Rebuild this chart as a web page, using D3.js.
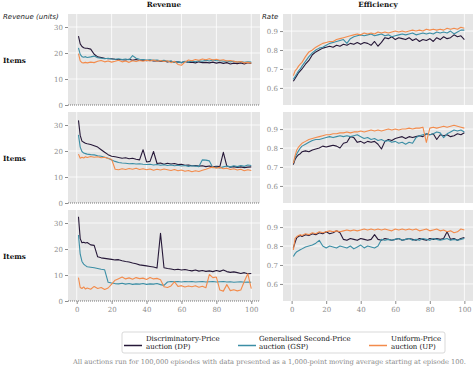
<!DOCTYPE html>
<html><head><meta charset="utf-8">
<script src="https://cdn.jsdelivr.net/npm/d3@7"></script>
<style>body{margin:0;background:#fff}svg{display:block}</style>
</head><body>
<script>
const episodes = [1,2,3,4,5,6,8,10,12,14,16,18,20,22,24,26,28,30,32,34,36,38,40,42,44,46,48,50,52,54,56,58,60,62,64,66,68,70,72,74,76,78,80,82,84,86,88,90,92,94,96,98,100];
const seriesNames = ["DP","GSP","UP"];
const legendLabels = [["Discriminatory-Price","auction (DP)"],["Generalised Second-Price","auction (GSP)"],["Uniform-Price","auction (UP)"]];
const rowLabels = ["Items","Items","Items"];
const columnTitles = ["Revenue","Efficiency"];
const revenueTicks = [0,10,20,30];
const rateTicks = [0.6,0.7,0.8,0.9];
const xTicks = [0,20,40,60,80,100];

// Revenue rows
const rev1DP = [26.5,23.5,22.5,22,21.8,21.8,21.5,19.5,18.5,18.3,18.0,17.8,17.8,17.6,17.5,17.4,17.3,17.6,17.2,17.5,17.1,17.3,17.0,17.2,16.9,17.0,16.8,16.9,16.6,16.8,16.5,16.6,16.3,16.7,16.4,16.5,16.2,16.6,16.3,16.4,16.2,16.5,16.1,16.4,16.0,16.3,15.8,16.1,15.9,16.2,15.8,16.3,16.0];
const rev1GSP = [22.0,19.5,18.6,18.4,18.6,18.3,18.5,18.8,18.2,18.0,17.8,18.0,17.7,17.6,17.8,17.5,17.7,17.4,19.0,18.0,17.6,17.5,17.3,17.4,17.2,17.3,17.0,17.2,16.8,16.9,16.4,16.6,16.3,16.8,16.5,16.9,16.6,17.0,16.8,17.2,16.9,17.3,17.0,17.1,16.8,16.9,16.6,16.8,16.5,16.7,16.4,16.6,16.5];
const rev1UP = [19.8,17.0,16.3,16.2,16.4,16.2,16.5,16.3,16.8,17.1,16.6,16.9,16.5,16.8,17.2,16.6,16.9,16.4,17.0,16.7,17.1,16.8,17.2,16.9,17.3,16.8,17.1,16.7,17.0,16.3,16.8,15.6,15.3,16.5,17.3,17.0,17.5,17.2,17.7,17.4,17.8,17.3,17.6,17.2,17.4,16.9,17.1,16.8,16.5,16.7,16.2,16.4,16.1];
const rev2DP = [31.8,26.0,23.8,23.4,23.0,22.8,22.5,22.0,21.5,20.5,19.5,18.6,18.0,17.8,17.5,17.2,17.4,17.0,17.2,16.8,16.6,20.5,15.8,16.0,19.8,15.2,15.4,14.9,15.3,15.0,15.2,14.8,14.9,14.5,14.6,14.3,14.4,14.2,14.3,14.0,14.2,13.9,14.1,14.0,19.5,14.2,13.8,14.0,13.7,13.9,13.6,13.8,13.9];
const rev2GSP = [26.2,21.5,19.8,19.2,19.0,18.8,18.6,18.5,18.2,18.0,17.6,17.2,16.5,16.0,15.6,15.4,15.3,15.1,15.2,15.0,15.1,14.9,14.8,14.9,14.6,14.8,14.5,14.7,14.4,14.6,14.3,14.5,14.2,14.4,14.1,14.3,14.2,14.0,16.6,16.5,16.2,13.6,13.8,13.5,13.9,14.2,13.9,14.3,14.0,14.4,14.1,14.6,14.4];
const rev2UP = [18.8,17.2,17.6,17.3,17.8,17.5,17.9,17.6,17.8,17.4,17.6,17.1,16.8,13.0,12.8,13.2,12.9,13.3,13.0,13.4,12.9,13.2,12.8,13.1,12.6,13.0,12.7,13.1,12.8,12.5,12.9,12.4,12.7,12.2,12.5,12.0,12.4,12.1,12.6,13.0,13.5,13.8,13.4,13.7,13.2,13.4,12.9,13.2,12.7,13.0,12.4,12.8,12.5];
const rev3DP = [32.4,24.0,22.4,22.6,22.3,22.5,21.6,21.4,17.0,16.6,16.4,16.2,16.0,15.8,15.9,15.5,15.2,15.0,14.6,14.3,13.9,13.7,13.5,13.3,13.1,12.7,26.0,12.8,12.5,12.3,12.0,12.2,11.9,12.1,11.8,11.6,11.9,11.5,11.7,11.4,11.6,11.3,11.7,11.4,11.9,11.3,11.0,11.2,10.9,10.6,10.9,10.5,10.6];
const rev3GSP = [25.4,18.0,15.2,14.2,13.6,13.2,13.0,12.8,12.5,12.2,12.0,7.2,6.9,6.7,6.6,6.8,6.5,6.7,6.4,6.6,6.5,6.7,6.4,6.6,6.5,6.7,6.3,6.0,7.3,7.5,7.4,7.5,7.3,7.5,7.4,7.5,7.3,7.4,7.5,7.3,7.4,7.5,7.3,7.4,7.5,7.3,7.4,7.2,7.3,7.4,7.2,7.3,7.2];
const rev3UP = [9.0,5.2,4.8,5.4,4.6,5.0,4.5,5.6,4.8,5.2,4.4,5.0,6.5,8.0,8.6,9.2,8.5,8.9,8.4,9.0,8.6,8.8,8.3,9.0,8.5,8.7,8.2,5.5,5.2,5.8,7.4,5.6,5.9,5.4,5.8,5.5,5.9,5.3,5.7,5.1,10.2,9.0,9.2,4.2,3.8,6.3,4.0,4.3,3.9,4.2,7.5,10.5,4.8];

// Efficiency rows
const eff1DP = [0.635,0.65,0.665,0.68,0.69,0.70,0.725,0.745,0.775,0.79,0.80,0.81,0.815,0.82,0.815,0.825,0.82,0.83,0.825,0.835,0.83,0.84,0.83,0.84,0.835,0.825,0.845,0.82,0.84,0.865,0.86,0.87,0.855,0.865,0.86,0.855,0.865,0.85,0.86,0.845,0.855,0.85,0.86,0.845,0.865,0.855,0.87,0.86,0.865,0.88,0.87,0.875,0.855];
const eff1GSP = [0.645,0.66,0.675,0.69,0.70,0.715,0.74,0.765,0.785,0.80,0.81,0.815,0.825,0.835,0.84,0.845,0.85,0.855,0.835,0.86,0.87,0.875,0.88,0.875,0.88,0.885,0.875,0.88,0.885,0.875,0.88,0.87,0.875,0.88,0.885,0.88,0.885,0.89,0.88,0.885,0.89,0.885,0.89,0.885,0.895,0.89,0.895,0.89,0.90,0.885,0.895,0.905,0.905];
const eff1UP = [0.665,0.69,0.70,0.715,0.725,0.735,0.765,0.79,0.80,0.815,0.825,0.835,0.84,0.845,0.845,0.855,0.86,0.865,0.87,0.875,0.88,0.885,0.88,0.89,0.885,0.89,0.885,0.895,0.89,0.895,0.89,0.895,0.9,0.895,0.9,0.895,0.9,0.905,0.9,0.905,0.9,0.91,0.905,0.91,0.905,0.91,0.905,0.915,0.91,0.915,0.91,0.92,0.915];
const eff2DP = [0.712,0.74,0.755,0.765,0.77,0.78,0.785,0.78,0.79,0.795,0.80,0.81,0.805,0.81,0.815,0.81,0.80,0.825,0.83,0.86,0.855,0.83,0.835,0.825,0.835,0.83,0.835,0.82,0.795,0.835,0.845,0.84,0.85,0.855,0.86,0.85,0.86,0.855,0.86,0.865,0.86,0.875,0.87,0.875,0.845,0.87,0.865,0.87,0.86,0.865,0.875,0.87,0.88];
const eff2GSP = [0.72,0.75,0.77,0.785,0.80,0.81,0.82,0.83,0.84,0.845,0.845,0.85,0.855,0.86,0.855,0.86,0.865,0.86,0.865,0.86,0.865,0.87,0.86,0.85,0.855,0.845,0.85,0.84,0.845,0.835,0.84,0.83,0.835,0.825,0.83,0.82,0.83,0.825,0.855,0.865,0.87,0.875,0.87,0.875,0.885,0.88,0.855,0.875,0.885,0.895,0.89,0.895,0.885];
const eff2UP = [0.72,0.76,0.79,0.805,0.815,0.825,0.835,0.845,0.85,0.855,0.86,0.865,0.87,0.87,0.875,0.875,0.88,0.88,0.885,0.88,0.885,0.885,0.89,0.885,0.89,0.895,0.89,0.895,0.89,0.895,0.9,0.895,0.9,0.895,0.9,0.9,0.905,0.9,0.905,0.905,0.91,0.83,0.905,0.91,0.905,0.91,0.915,0.91,0.915,0.92,0.915,0.91,0.905];
const eff3DP = [0.79,0.82,0.845,0.85,0.855,0.85,0.86,0.855,0.865,0.86,0.87,0.865,0.875,0.865,0.87,0.88,0.87,0.835,0.83,0.84,0.835,0.83,0.84,0.835,0.83,0.835,0.86,0.835,0.83,0.84,0.835,0.83,0.835,0.84,0.83,0.835,0.84,0.835,0.83,0.84,0.835,0.83,0.84,0.835,0.84,0.835,0.84,0.875,0.835,0.84,0.83,0.84,0.845];
const eff3GSP = [0.745,0.76,0.77,0.775,0.78,0.785,0.795,0.80,0.805,0.815,0.83,0.80,0.79,0.80,0.795,0.79,0.80,0.795,0.79,0.80,0.785,0.795,0.805,0.79,0.80,0.795,0.79,0.80,0.835,0.83,0.835,0.83,0.835,0.84,0.83,0.835,0.84,0.83,0.835,0.83,0.84,0.835,0.83,0.84,0.835,0.83,0.835,0.84,0.83,0.835,0.83,0.835,0.84];
const eff3UP = [0.78,0.84,0.85,0.855,0.86,0.855,0.865,0.86,0.87,0.865,0.875,0.87,0.875,0.88,0.875,0.88,0.875,0.88,0.885,0.88,0.885,0.88,0.885,0.89,0.885,0.89,0.885,0.89,0.885,0.89,0.885,0.88,0.89,0.885,0.89,0.885,0.89,0.885,0.89,0.88,0.885,0.89,0.88,0.885,0.89,0.88,0.885,0.875,0.88,0.87,0.875,0.89,0.885];

const revenueRows = [[rev1DP,rev1GSP,rev1UP],[rev2DP,rev2GSP,rev2UP],[rev3DP,rev3GSP,rev3UP]];
const efficiencyRows = [[eff1DP,eff1GSP,eff1UP],[eff2DP,eff2GSP,eff2UP],[eff3DP,eff3GSP,eff3UP]];

const colors = {DP:"#261838", GSP:"#3b8ea5", UP:"#f38b4b"};
const W = 474, H = 366;
const cols = [{x0:68,x1:260},{x0:283,x1:473}];
const rows = [{y0:14,y1:105},{y0:112,y1:203},{y0:210,y1:301}];
const tickColor = "#8c8c8c";
const serif = "'DejaVu Serif', serif";

const svg = d3.select("body").append("svg").attr("width",W).attr("height",H);

// column titles
columnTitles.forEach((t,i)=>{
  svg.append("text").attr("x",(cols[i].x0+cols[i].x1)/2).attr("y",7)
    .attr("text-anchor","middle").attr("font-family",serif).attr("font-weight","bold")
    .attr("font-size",7.2).attr("fill","#111").text(t);
});
svg.append("text").attr("x",3).attr("y",19).attr("font-family","'DejaVu Sans', sans-serif")
  .attr("font-style","italic").attr("font-size",7).attr("fill","#222").text("Revenue (units)");
svg.append("text").attr("x",262).attr("y",19).attr("font-family","'DejaVu Sans', sans-serif")
  .attr("font-style","italic").attr("font-size",7).attr("fill","#222").text("Rate");

rowLabels.forEach((t,r)=>{
  svg.append("text").attr("x",3).attr("y",(rows[r].y0+rows[r].y1)/2+3)
    .attr("font-family",serif).attr("font-weight","bold").attr("font-size",7.2).attr("fill","#111").text(t);
});

function panel(ci, ri, yDomain, yTicks, dataRows, isRevenue){
  const c = cols[ci], rr = rows[ri];
  const x = d3.scaleLinear().domain([-5,105]).range([c.x0,c.x1]);
  const y = d3.scaleLinear().domain(yDomain).range([rr.y1,rr.y0]);
  const g = svg.append("g");
  g.append("rect").attr("x",c.x0).attr("y",rr.y0).attr("width",c.x1-c.x0).attr("height",rr.y1-rr.y0).attr("fill","#e5e5e5");
  // grid
  g.selectAll(".vg").data(xTicks).join("line")
    .attr("x1",d=>x(d)).attr("x2",d=>x(d)).attr("y1",rr.y0).attr("y2",rr.y1)
    .attr("stroke","#fff").attr("stroke-width",0.8);
  g.selectAll(".hg").data(yTicks.filter(d=>d!==0)).join("line")
    .attr("x1",c.x0).attr("x2",c.x1).attr("y1",d=>y(d)).attr("y2",d=>y(d))
    .attr("stroke","#fff").attr("stroke-width",0.8);
  if(isRevenue){
    g.append("line").attr("x1",c.x0).attr("x2",c.x1).attr("y1",y(0)).attr("y2",y(0))
      .attr("stroke","#555").attr("stroke-width",0.8).attr("stroke-dasharray","1,1");
  }
  // y axis
  const ya = d3.axisLeft(y).tickValues(yTicks).tickSize(3).tickPadding(2)
    .tickFormat(isRevenue ? d3.format("d") : d3.format(".1f"));
  const yg = svg.append("g").attr("transform",`translate(${c.x0},0)`).call(ya);
  yg.select(".domain").remove();
  yg.selectAll("line").attr("stroke",tickColor);
  yg.selectAll("text").attr("font-family",serif).attr("font-size",7).attr("fill",tickColor);
  if(ri===2){
    const xa = d3.axisBottom(x).tickValues(xTicks).tickSize(3).tickPadding(3).tickFormat(d3.format("d"));
    const xg = svg.append("g").attr("transform",`translate(0,${rr.y1})`).call(xa);
    xg.select(".domain").remove();
    xg.selectAll("line").attr("stroke",tickColor);
    xg.selectAll("text").attr("font-family",serif).attr("font-size",7).attr("fill",tickColor);
  }
  const line = d3.line().x((d,i)=>x(episodes[i])).y(d=>y(d));
  dataRows.forEach((vals,si)=>{
    g.append("path").datum(vals).attr("d",line).attr("fill","none")
      .attr("stroke",colors[seriesNames[si]]).attr("stroke-width",1.1).attr("stroke-linejoin","round");
  });
}
for(let r=0;r<3;r++){
  panel(0,r,[0,35],revenueTicks,revenueRows[r],true);
  panel(1,r,[0.51,0.99],rateTicks,efficiencyRows[r],false);
}

// legend
const lg = svg.append("g");
lg.append("rect").attr("x",122).attr("y",332).attr("width",323).attr("height",21).attr("rx",2)
  .attr("fill","#fff").attr("stroke","#cfcfcf").attr("stroke-width",0.8);
const legX = [124,238,369];
const textX = [146,259,391];
seriesNames.forEach((s,i)=>{
  lg.append("line").attr("x1",legX[i]).attr("x2",legX[i]+18).attr("y1",345.5).attr("y2",345.5)
    .attr("stroke",colors[s]).attr("stroke-width",1.5);
  const t = lg.append("text").attr("font-family",serif).attr("font-size",7).attr("fill","#111");
  t.append("tspan").attr("x",textX[i]).attr("y",340.5).text(legendLabels[i][0]);
  t.append("tspan").attr("x",textX[i]).attr("y",348.5).text(legendLabels[i][1]);
});
svg.append("text").attr("x",73).attr("y",364).attr("font-family",serif).attr("font-size",6.6)
  .attr("textLength",393).attr("lengthAdjust","spacingAndGlyphs")
  .attr("fill","#888").text("All auctions run for 100,000 episodes with data presented as a 1,000-point moving average starting at episode 100.");
</script>
</body></html>
